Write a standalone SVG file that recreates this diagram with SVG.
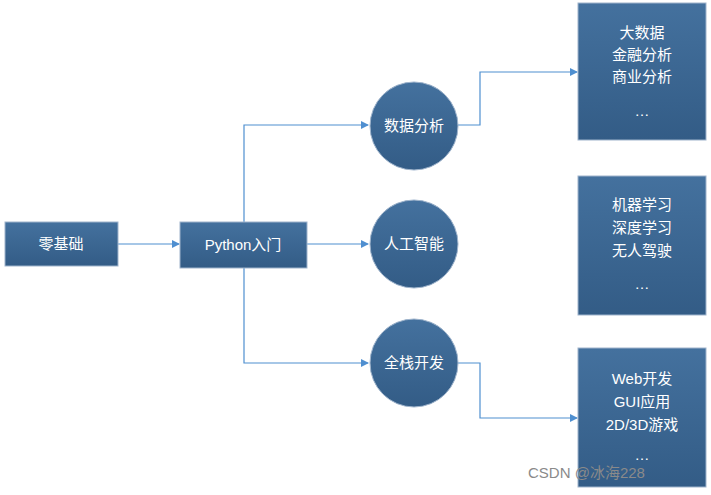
<svg xmlns="http://www.w3.org/2000/svg" width="711" height="495" viewBox="0 0 711 495">
<defs>
<linearGradient id="g" x1="0" y1="0" x2="0" y2="1"><stop offset="0" stop-color="#44719e"/><stop offset="1" stop-color="#335c86"/></linearGradient>
<marker id="a" markerWidth="8" markerHeight="8" refX="7" refY="4" orient="auto" markerUnits="userSpaceOnUse"><path d="M0,0 L8,4 L0,8 Z" fill="#4f8fd0"/></marker>
</defs>
<style>
.n{fill:url(#g);stroke:#9fb4cc;stroke-width:1}
.t{font-family:"Liberation Sans","Noto Sans CJK SC",sans-serif;font-size:15px;fill:#fff;text-anchor:middle}
.c{fill:none;stroke:#4f8fd0;stroke-width:1.2;marker-end:url(#a)}
.l{fill:none;stroke:#4f8fd0;stroke-width:1.2}
</style>
<rect width="711" height="495" fill="#fff"/>
<g id="connectors">
<path class="c" d="M118,244 H179"/>
<path class="c" d="M307,244 H368"/>
<path class="c" d="M244,268 V125 H368"/>
<path class="c" d="M244,268 V363 H368"/>
<path class="c" d="M458,125 H480 V72 H577"/>
<path class="c" d="M458,363 H480 V418 H577"/>
</g>
<g id="n0"><rect class="n" x="5" y="222" width="113" height="44"/><text class="t" x="61" y="249">零基础</text></g>
<g id="n1"><rect class="n" x="180" y="222" width="127" height="46"/><text class="t" x="243" y="250">Python入门</text></g>
<g id="c1"><circle class="n" cx="414" cy="126" r="44"/><text class="t" x="414" y="131">数据分析</text></g>
<g id="c2"><circle class="n" cx="414" cy="244" r="44"/><text class="t" x="414" y="249">人工智能</text></g>
<g id="c3"><circle class="n" cx="414" cy="363" r="44"/><text class="t" x="414" y="368">全栈开发</text></g>
<g id="r1"><rect class="n" x="578" y="3" width="128" height="137"/><text class="t" x="642" y="38">大数据</text><text class="t" x="642" y="60">金融分析</text><text class="t" x="642" y="82">商业分析</text><text class="t" x="642" y="116">…</text></g>
<g id="r2"><rect class="n" x="578" y="176" width="128" height="139"/><text class="t" x="642" y="210">机器学习</text><text class="t" x="642" y="233">深度学习</text><text class="t" x="642" y="256">无人驾驶</text><text class="t" x="642" y="289">…</text></g>
<g id="r3"><rect class="n" x="578" y="348" width="128" height="139"/><text class="t" x="642" y="384">Web开发</text><text class="t" x="642" y="407">GUI应用</text><text class="t" x="642" y="430">2D/3D游戏</text><text class="t" x="642" y="460">…</text></g>
<text x="528" y="478" style="font-family:'Liberation Sans','Noto Sans CJK SC',sans-serif;font-size:15px;fill:#8a8a8a">CSDN @冰海228</text>
</svg>
